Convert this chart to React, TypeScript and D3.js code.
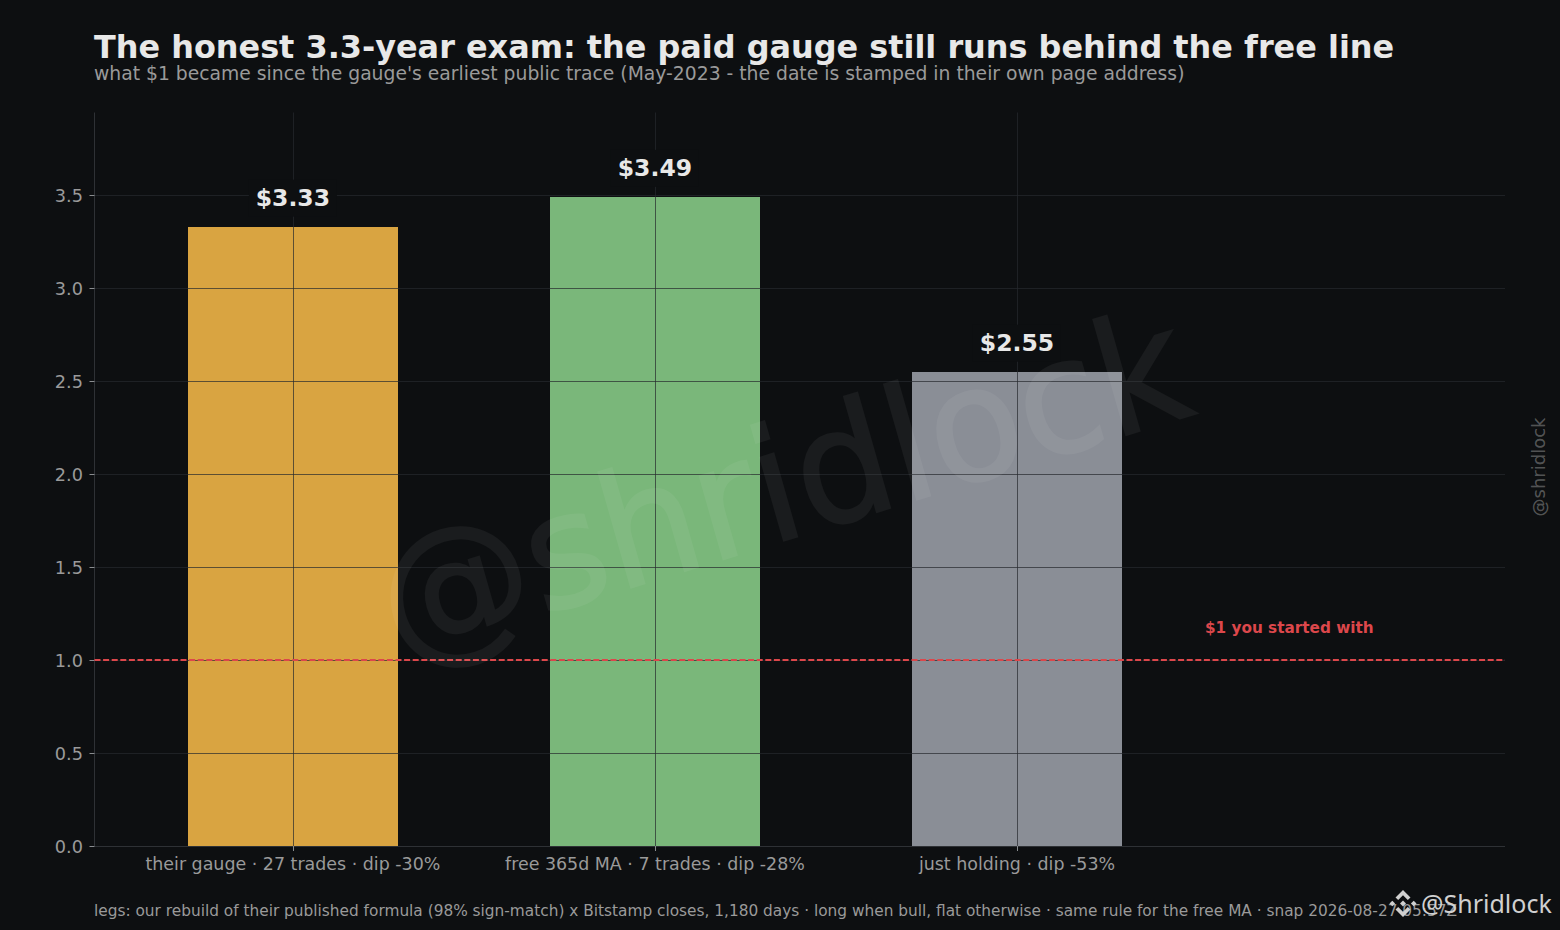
import React from "react";
import * as d3 from "d3";

const categories = ["their gauge · 27 trades · dip -30%", "free 365d MA · 7 trades · dip -28%", "just holding · dip -53%"];
const values = [3.33, 3.49, 2.55];
const valueLabels = ["$3.33", "$3.49", "$2.55"];
const barColors = ["#d9a441", "#7ab77a", "#8a8e96"];
const yTicks = [0, 0.5, 1, 1.5, 2, 2.5, 3, 3.5];
const refValue = 1;
const refLabel = "$1 you started with";
const title = "The honest 3.3-year exam: the paid gauge still runs behind the free line";
const subtitle = "what $1 became since the gauge's earliest public trace (May-2023 - the date is stamped in their own page address)";
const footer = "legs: our rebuild of their published formula (98% sign-match) x Bitstamp closes, 1,180 days · long when bull, flat otherwise · same rule for the free MA · snap 2026-08-27 05:57Z";
const font = "'DejaVu Sans', sans-serif";
const BG = "#0d0f11";

export default function App() {
  const x = d3.scaleLinear().domain([-0.548, 3.348]).range([94.5, 1505]);
  const y = d3.scaleLinear().domain([0, 3.9437]).range([846, 112.5]);
  const bw = x(0.58) - x(0);
  const grid = "#262a2e";
  const sx = (v: number) => Math.round(x(v)) + 0.5;
  const sy = (v: number) => Math.round(y(v)) + 0.5;
  return (
    <svg width={1560} height={930} style={{ position: "fixed", left: 0, top: 0, background: BG }}>
      <rect width={1560} height={930} fill={BG} />
      {categories.map((c, i) => (
        <rect key={c} x={Math.round(x(i) - bw / 2)} y={Math.round(y(values[i]))} width={Math.round(bw)} height={Math.round(y(0)) - Math.round(y(values[i]))} fill={barColors[i]} />
      ))}
      {yTicks.slice(1).map((t) => (
        <line key={t} x1={94.5} x2={1505} y1={sy(t)} y2={sy(t)} stroke={grid} strokeOpacity={0.7} strokeWidth={1} />
      ))}
      {categories.map((c, i) => (
        <line key={c} x1={sx(i)} x2={sx(i)} y1={112.5} y2={846} stroke={grid} strokeOpacity={0.7} strokeWidth={1} />
      ))}
      <line x1={94.5} x2={94.5} y1={112.5} y2={846} stroke="#2e3135" />
      <line x1={94.5} x2={1505} y1={846.5} y2={846.5} stroke="#2e3135" />
      {yTicks.map((t) => (
        <g key={t}>
          <line x1={89.5} x2={94.5} y1={sy(t)} y2={sy(t)} stroke="#8a8d90" />
          <text x={83} y={y(t) + 6.5} textAnchor="end" fontFamily={font} fontSize={17.7} fill="#9a9a9a">{t.toFixed(1)}</text>
        </g>
      ))}
      {categories.map((c, i) => (
        <g key={c}>
          <line x1={sx(i)} x2={sx(i)} y1={846} y2={851} stroke="#8a8d90" />
          <text x={x(i)} y={870} textAnchor="middle" fontFamily={font} fontSize={17.45} fill="#9a9a9a">{c}</text>
        </g>
      ))}
      <line x1={94.5} x2={1505} y1={y(refValue)} y2={y(refValue)} stroke="#dc474b" strokeWidth={2} strokeDasharray="6 2.6" />
      <text x={1205} y={633} fontFamily={font} fontSize={15.25} fontWeight="bold" fill="#dc474b">{refLabel}</text>
      {values.map((v, i) => (
        <g key={i}>
          <rect x={x(i) - 44} y={y(v) - 47} width={88} height={37} fill={BG} />
          <text x={x(i)} y={y(v) - 21} textAnchor="middle" fontFamily={font} fontSize={23.5} fontWeight="bold" fill="#e8e8e8">{valueLabels[i]}</text>
        </g>
      ))}
      <text x={94} y={58} fontFamily={font} fontSize={31.9} fontWeight="bold" fill="#e8e8e8">{title}</text>
      <text x={94} y={79.5} fontFamily={font} fontSize={18.76} fill="#9a9a9a">{subtitle}</text>
      <text x={94} y={916} fontFamily={font} fontSize={15.35} fill="#9a9a9a">{footer}</text>
      <text transform="translate(785,495) scale(1,1.04) rotate(-16.5)" textAnchor="middle" dominantBaseline="middle" fontFamily={font} fontSize={152} fill="#ffffff" stroke="#ffffff" strokeWidth={2} opacity={0.05}>@shridlock</text>
      <text transform="translate(1545,467) rotate(-90)" textAnchor="middle" fontFamily={font} fontSize={18} fill="#ffffff" fillOpacity={0.3}>@shridlock</text>
      <g transform="translate(1403,903.5)" fill="#d0d0d0">
        <path d="M0,-13.5 L7.5,-6 L4.8,-3.5 L0,-8.2 L-4.8,-3.5 L-7.5,-6 Z" />
        <path d="M0,13.5 L7.5,6 L4.8,3.5 L0,8.2 L-4.8,3.5 L-7.5,6 Z" />
        <path d="M-13.5,0 L-10.7,-2.8 L-7.9,0 L-10.7,2.8 Z" />
        <path d="M13.5,0 L10.7,-2.8 L7.9,0 L10.7,2.8 Z" />
        <path d="M0,-3 L3,0 L0,3 L-3,0 Z" />
      </g>
      <text x={1421} y={913} fontFamily="'Noto Sans', sans-serif" fontSize={25} fill="#d0d0d0">@Shridlock</text>
    </svg>
  );
}
